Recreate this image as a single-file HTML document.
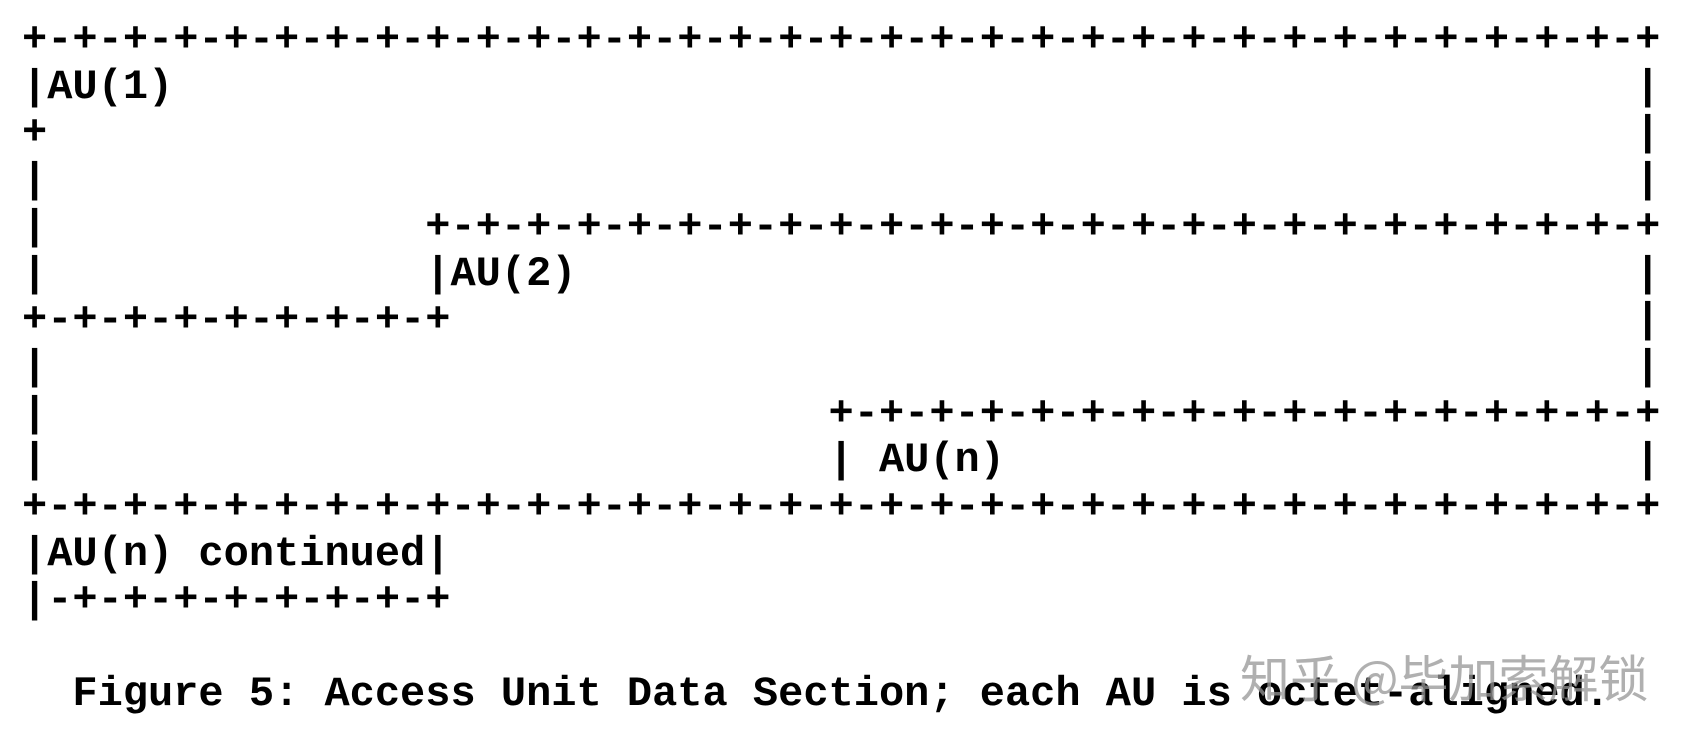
<!DOCTYPE html>
<html><head><meta charset="utf-8"><style>
html,body{margin:0;padding:0;background:#fff;width:1696px;height:742px;overflow:hidden;position:relative}
pre{position:absolute;left:22px;top:17px;margin:0;font-family:"Liberation Mono",monospace;font-weight:bold;font-size:42px;line-height:46.7px;color:#000}
.wm{position:absolute;left:1240px;top:640px;font-family:"Noto Sans CJK SC",sans-serif;font-size:50px;color:rgba(150,150,150,0.75);white-space:nowrap}
</style></head><body>
<pre>+-+-+-+-+-+-+-+-+-+-+-+-+-+-+-+-+-+-+-+-+-+-+-+-+-+-+-+-+-+-+-+-+
|AU(1)                                                          |
+                                                               |
|                                                               |
|               +-+-+-+-+-+-+-+-+-+-+-+-+-+-+-+-+-+-+-+-+-+-+-+-+
|               |AU(2)                                          |
+-+-+-+-+-+-+-+-+                                               |
|                                                               |
|                               +-+-+-+-+-+-+-+-+-+-+-+-+-+-+-+-+
|                               | AU(n)                         |
+-+-+-+-+-+-+-+-+-+-+-+-+-+-+-+-+-+-+-+-+-+-+-+-+-+-+-+-+-+-+-+-+
|AU(n) continued|
|-+-+-+-+-+-+-+-+

  Figure 5: Access Unit Data Section; each AU is octet-aligned.</pre>
<div class="wm">知乎 @毕加索解锁</div>
</body></html>
